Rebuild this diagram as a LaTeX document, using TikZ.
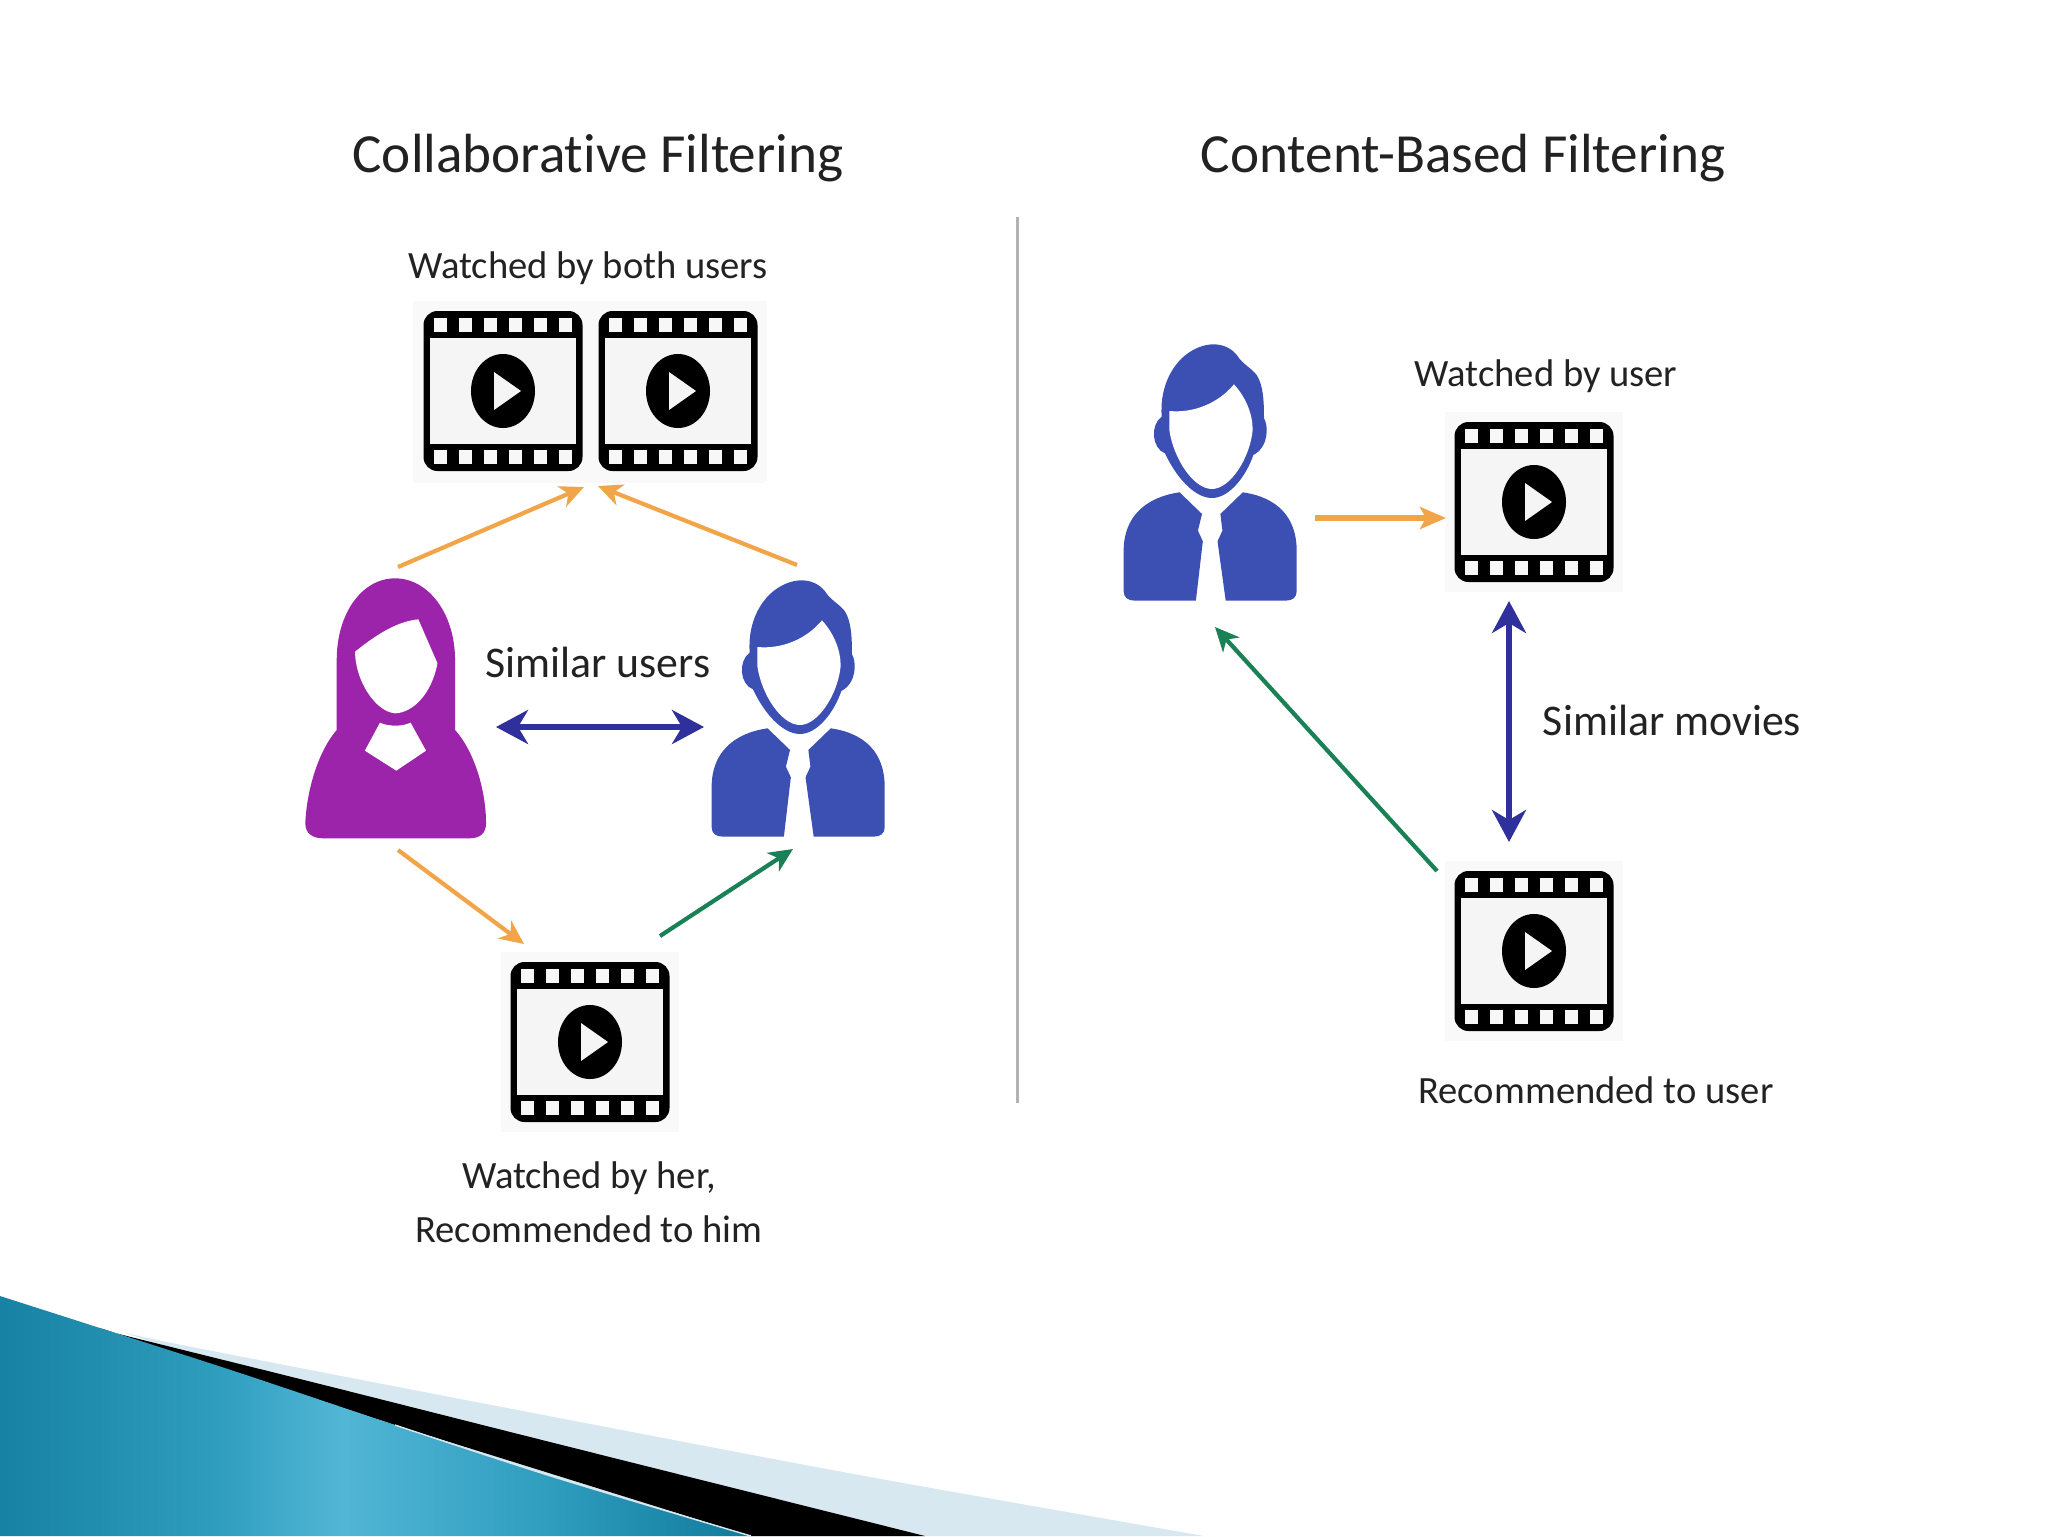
\documentclass[tikz,border=0pt]{standalone}
\usepackage{fontspec}
\setmainfont[Ligatures=NoCommon]{Carlito}
\usetikzlibrary{arrows.meta}
\definecolor{manblue}{HTML}{3C50B4}
\definecolor{womanpurple}{HTML}{9C24AA}
\definecolor{arrorange}{HTML}{F2A548}
\definecolor{arrblue}{HTML}{30309C}
\definecolor{arrgreen}{HTML}{1A8055}
\definecolor{txt}{HTML}{222222}
\definecolor{paleblue}{HTML}{D8E8F0}
\definecolor{teal1}{HTML}{0C7596}
\definecolor{teal2}{HTML}{2F9DBE}
\definecolor{teal3}{HTML}{52B6D6}
\pgfdeclarehorizontalshading{tealband}{100bp}{color(0bp)=(teal1);color(25bp)=(teal1);color(43bp)=(teal2);color(50bp)=(teal3);color(62bp)=(teal2);color(75bp)=(teal1);color(100bp)=(teal1)}
\tikzset{
  lbl/.style={text=txt,inner sep=0pt,align=center},
  title/.style={lbl,font=\fontsize{27.6}{32}\selectfont},
  sub/.style={lbl,font=\fontsize{19.3}{26.8}\selectfont},
  big/.style={lbl,font=\fontsize{21.9}{26}\selectfont},
  filmbox/.style={fill=black,rounded corners=7pt,minimum width=79.5pt,minimum height=80pt,inner sep=0pt},
  thinarrow/.style={line width=2.1pt,-{Stealth[length=12pt,width=11pt,inset=3.5pt]}},
  thickorange/.style={draw=arrorange,line width=3.2pt,-{Stealth[length=13pt,width=11pt,inset=3pt]}},
  bluedouble/.style={draw=arrblue,line width=2.9pt,{Stealth[length=16pt,width=17pt,inset=5pt]}-{Stealth[length=16pt,width=17pt,inset=5pt]}},
}
\newcommand{\filmicon}[3]{%
  \fill[white!97.5!black] (#2-89,#3-90) rectangle (#2+89,#3+90);
  \node[filmbox] (#1) at (#2,#3) {};
  \begin{scope}[shift={(#2,#3)}]
    \fill[white!96!black] (-73,-53) rectangle (73,53);
    \foreach \i in {-62.5,-37.5,-12.5,12.5,37.5,62.5}{
      \fill[white!97!black] (\i-6.5,-73) rectangle (\i+6.5,-59);
      \fill[white!97!black] (\i-6.5,59) rectangle (\i+6.5,73);
    }
    \fill[black] (0,0) ellipse [x radius=32,y radius=37];
    \fill[white!96!black] (-9,-19) -- (18,0) -- (-9,19) -- cycle;
  \end{scope}}
\newcommand{\manicon}[2]{%
  \begin{scope}[shift={(#1+418,#2+31)},scale=0.3333]
    \fill[manblue] (310,28) .. controls (340,28) and (365,40) .. (382,62)
      .. controls (395,85) and (425,100) .. (440,120)
      .. controls (460,150) and (462,200) .. (462,250)
      .. controls (475,270) and (478,335) .. (430,360)
      .. controls (410,420) and (360,489) .. (306,489)
      .. controls (250,489) and (195,420) .. (165,355)
      .. controls (125,340) and (120,270) .. (155,245)
      .. controls (150,170) and (175,110) .. (215,70)
      .. controls (245,42) and (280,28) .. (310,28) -- cycle;
    \fill[white] (178,228) .. controls (250,235) and (325,205) .. (372,148)
      .. controls (410,190) and (428,240) .. (428,285)
      .. controls (420,370) and (360,462) .. (306,462)
      .. controls (250,462) and (190,370) .. (178,285) -- cycle;
  \end{scope}
  \begin{scope}[shift={(#1,#2)},xscale=0.408,yscale=0.3333]
    \fill[manblue] (1195,565) -- (1250,630) -- (1240,680) -- (1252,712) -- (1235,890) -- (1085,890)
      .. controls (1068,890) and (1058,880) .. (1058,862) -- (1058,740)
      .. controls (1058,640) and (1110,580) .. (1195,565) -- cycle;
    \fill[manblue] (1350,565) -- (1295,630) -- (1300,680) -- (1288,712) -- (1308,890) -- (1455,890)
      .. controls (1472,890) and (1482,880) .. (1482,862) -- (1482,740)
      .. controls (1482,640) and (1435,580) .. (1350,565) -- cycle;
  \end{scope}}
\begin{document}
\begin{tikzpicture}[x=0.5pt,y=-0.5pt]
\useasboundingbox (0,0) rectangle (2048,1536);
\fill[white] (0,0) rectangle (2048,1536);

% corner swoosh
\fill[paleblue] plot[smooth] coordinates {(120,1331) (182,1345) (554,1417) (870,1477) (1204,1536)} -- (700,1536) -- cycle;
\fill[black] plot[smooth] coordinates {(103,1329) (111,1332) (316,1383) (554,1443) (925,1536)} -- (751,1536) -- (395,1425) -- cycle;
\begin{scope}
  \clip plot[smooth] coordinates {(0,1296) (103,1329) (237,1372) (395,1425) (554,1477) (751,1536)} -- (0,1536) -- cycle;
  \shade[shading=tealband] (-100,1280) rectangle (780,1536);
\end{scope}
\draw[paleblue,line width=0.7pt] plot[smooth] coordinates {(395,1425) (554,1477) (751,1536)};

% divider
\coordinate (divtop) at (1017,217);
\coordinate (divbot) at (1017,1103);
\draw[draw=black!30,line width=1.5pt] (divtop) -- (divbot);

% titles
\node[title] (t1) at (598,158) {Collaborative Filtering};
\node[title] (t2) at (1463,158) {Content-Based Filtering};
\node[sub] (l1) at (588,268) {Watched by both users};
\node[big] (l2) at (598,662) {Similar users};
\node[sub] (l3) at (589,1202) {Watched by her,\\Recommended to him};
\node[sub] (l4) at (1546,376) {Watched by user};
\node[big] (l5) at (1672,720) {Similar movies};
\node[sub] (l6) at (1596,1090) {Recommended to user};

% films
\fill[white!97.5!black] (413,302) rectangle (765,483);
\filmicon{filmA}{503}{391}
\filmicon{filmB}{678}{391}
\filmicon{filmC}{590}{1042}
\filmicon{filmD}{1534}{502}
\filmicon{filmE}{1534}{951}

% woman
\begin{scope}[shift={(280,540)},xscale=0.408,yscale=0.3333]
  \fill[womanpurple] (62,850) .. controls (62,880) and (80,895) .. (105,895) -- (465,895)
    .. controls (490,895) and (505,880) .. (505,850)
    .. controls (505,760) and (480,640) .. (429,570)
    -- (429,360) .. controls (429,220) and (363,115) .. (282,115)
    .. controls (201,115) and (139,220) .. (139,360)
    -- (139,570) .. controls (90,640) and (65,760) .. (62,850) -- cycle;
  \fill[white] (184,335) .. controls (225,295) and (280,245) .. (339,238)
    -- (386,370) .. controls (372,460) and (327,518) .. (282,520)
    .. controls (233,515) and (184,420) .. (184,335) -- cycle;
  \fill[white] (245,548) .. controls (265,560) and (300,560) .. (320,548)
    -- (358,632) -- (285,692) -- (208,632) -- cycle;
\end{scope}
\node[inner sep=0pt,minimum width=91pt,minimum height=129pt] (woman) at (395,708) {};

% men
\manicon{280}{540}
\node[inner sep=0pt,minimum width=87pt,minimum height=128pt] (manL) at (797,709) {};
\manicon{692}{304}
\node[inner sep=0pt,minimum width=87pt,minimum height=128pt] (manR) at (1209,473) {};

% connector ends
\coordinate (a1s) at (398,567); \coordinate (a1e) at (584,487);
\coordinate (a2s) at (797,565); \coordinate (a2e) at (598,486);
\coordinate (a3s) at (398,850); \coordinate (a3e) at (524,944);
\coordinate (a4s) at (660,936); \coordinate (a4e) at (793,849);
\coordinate (a5s) at (496,727); \coordinate (a5e) at (704,727);
\coordinate (a6s) at (1315,518); \coordinate (a6e) at (1446,518);
\coordinate (a7s) at (1509,601); \coordinate (a7e) at (1509,842);
\coordinate (a8s) at (1437,871); \coordinate (a8e) at (1215,627);

\draw[thinarrow,draw=arrorange,fill=arrorange] (a1s) -- (a1e);
\draw[thinarrow,draw=arrorange,fill=arrorange] (a2s) -- (a2e);
\draw[thinarrow,draw=arrorange,fill=arrorange] (a3s) -- (a3e);
\draw[thinarrow,draw=arrgreen,fill=arrgreen] (a4s) -- (a4e);
\draw[bluedouble] (a5s) -- (a5e);
\draw[thickorange] (a6s) -- (a6e);
\draw[bluedouble] (a7s) -- (a7e);
\draw[thinarrow,draw=arrgreen,fill=arrgreen] (a8s) -- (a8e);
\end{tikzpicture}
\end{document}
